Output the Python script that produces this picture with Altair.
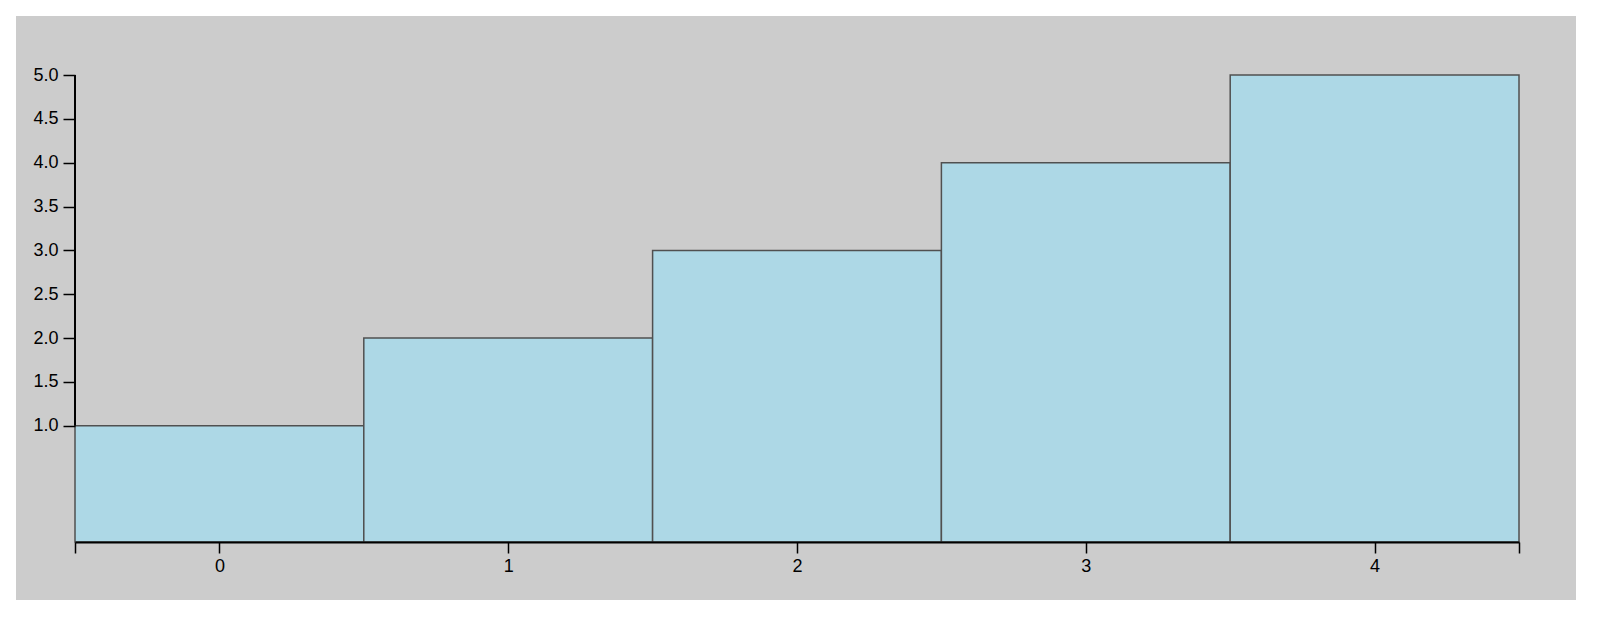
import altair as alt
import pandas as pd

categories = [0, 1, 2, 3, 4]
values = [1, 2, 3, 4, 5]
y_ticks = [1.0, 1.5, 2.0, 2.5, 3.0, 3.5, 4.0, 4.5, 5.0]
x_ticks = [0, 1, 2, 3, 4]
y_min = -0.325
y_max = 5.0
axis_lo = [1.0]
axis_hi = [5.0]

W = 1444
H = 467

df = pd.DataFrame({"cat": categories, "value": values})

y_axis = alt.Axis(values=y_ticks, format=".1f", domain=False, title=None, grid=False,
                  tickSize=12, labelPadding=5, zindex=1)
y_scale = alt.Scale(domain=[y_min, y_max], nice=False, zero=False)

bg = alt.Chart(pd.DataFrame({"a": [0]})).mark_rect(color="#cccccc").encode(
    x=alt.value(-59), x2=alt.value(W + 57), y=alt.value(-59), y2=alt.value(H + 58)
)

bars = alt.Chart(df).transform_calculate(
    x0="datum.cat - 0.5", x1="datum.cat + 0.5", base=str(y_min)
).mark_rect(fill="#add8e6", stroke="#505050", strokeWidth=1.5).encode(
    x=alt.X("x0:Q", scale=alt.Scale(domain=[-0.5, 4.5], nice=False, zero=False),
            axis=alt.Axis(values=[-0.5] + x_ticks + [4.5],
                          labelExpr="(datum.value == -0.5 || datum.value == 4.5) ? '' : format(datum.value, 'd')",
                          title=None, grid=False, tickSize=11, labelPadding=4, zindex=1,
                          labelOverlap=False, labelBound=False, labelFlush=False)),
    x2="x1:Q",
    y=alt.Y("value:Q", scale=y_scale, axis=y_axis),
    y2="base:Q",
)

rule = alt.Chart(pd.DataFrame({"value": axis_lo, "value2": axis_hi})).mark_rule(
    color="black", strokeWidth=2
).encode(
    x=alt.value(0),
    y=alt.Y("value:Q", scale=y_scale, axis=y_axis),
    y2="value2:Q",
)

chart = alt.layer(bg, bars, rule).properties(
    width=W, height=H,
    padding={"left": 67, "top": 67, "right": 60, "bottom": 60},
    autosize="none",
    background="white",
).configure_view(strokeWidth=0).configure_axis(
    labelFont="Liberation Sans", labelFontSize=18, labelColor="black",
    tickColor="black", tickWidth=1.5, domainColor="black", domainWidth=2,
)

chart.save("out.html", embed_options={"renderer": "svg", "actions": False})
